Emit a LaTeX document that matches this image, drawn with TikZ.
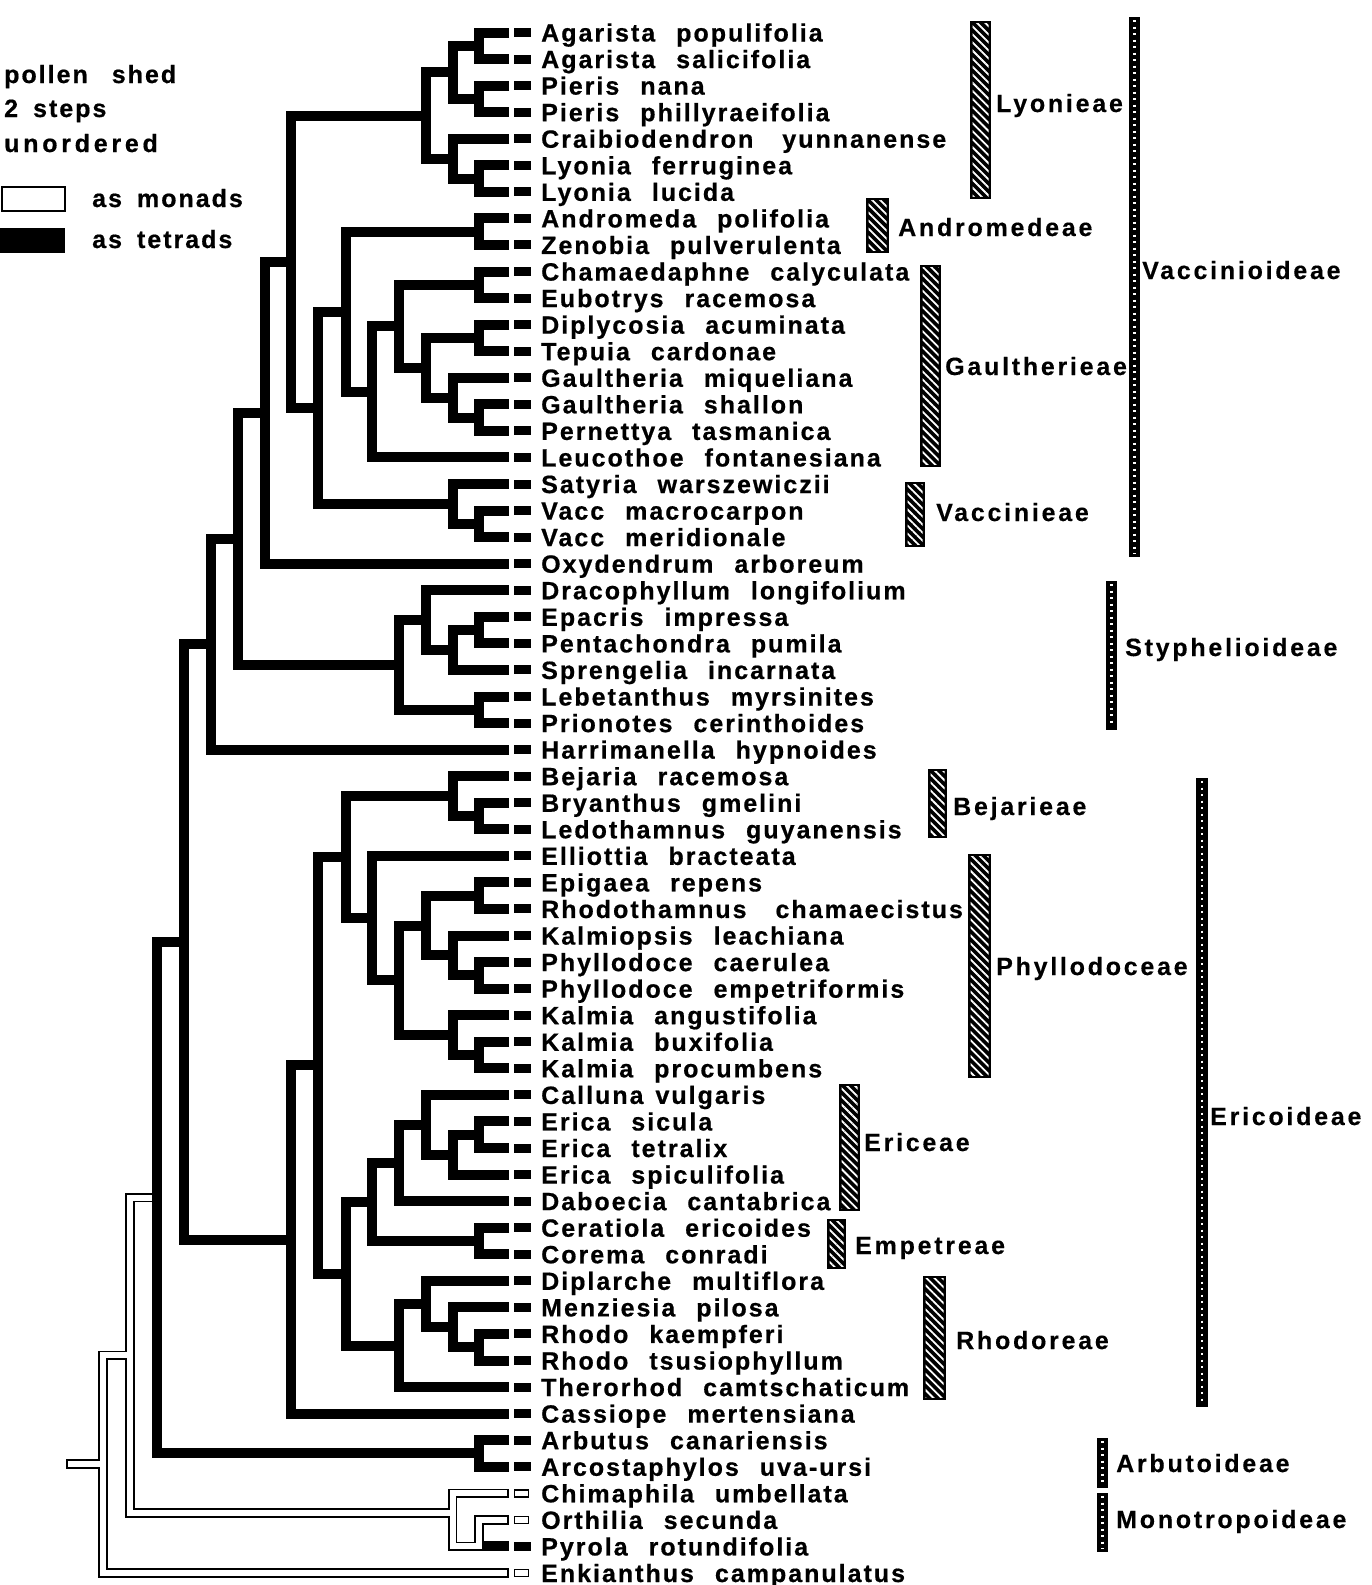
\documentclass[tikz,border=0pt]{standalone}
\usepackage{fontspec}
\setmainfont{Liberation Sans}
\newfontfamily\taxfont{Liberation Sans}[LetterSpace=8,BoldFeatures={FakeBold=0.6}]
\newfontfamily\grpfont{Liberation Sans}[LetterSpace=11,BoldFeatures={FakeBold=0.3}]
\newfontfamily\widefont{Liberation Sans}[LetterSpace=15,BoldFeatures={FakeBold=0.6}]
\usetikzlibrary{calc,patterns.meta}
\pgfdeclarelayer{paper}
\pgfdeclarelayer{under}
\pgfsetlayers{paper,under,main}
\newcommand\wg{\hspace{21pt}}
\newcommand\lgap{\hspace{15pt}}
\newcommand\clade[4]{%
  \path let \p1=($(#3)!0.5!(#4)$) in (#2pt,\y1) coordinate (#1);
  \draw[tet] (#3) -| (#1) |- (#4);}
\newcommand\hatchbar[4]{%
  \fill[black] (#1,#2) rectangle (#3,#4);
  \fill[pattern={Lines[angle=-45,distance=5.7pt,line width=1.8pt]},pattern color=white]
    ({#1+2.5},{#2+2.5}) rectangle ({#3-2.5},{#4-2.5});}
\newcommand\dotbar[4]{%
  \fill[black] (#1,#2) rectangle (#3,#4);
  \draw[white,line width=2.2pt,dash pattern=on 2pt off 4.5pt]
    ({(#1+#3)/2},{#2+3}) -- ({(#1+#3)/2},{#4-3});}
\begin{document}
\begin{tikzpicture}[x=1pt,y=-1pt,
 tet/.style={line width=10pt,line join=miter,line cap=butt},
 monout/.style={line width=9.5pt,line join=miter,black},
 monin/.style={line width=6pt,line join=miter,white},
 tbox/.style={fill=black,inner sep=0pt,minimum width=17pt,minimum height=9pt},
 wbox/.style={draw=black,line width=1.5pt,fill=white,inner sep=0pt,minimum width=14pt,minimum height=7pt},
 taxon/.style={font=\taxfont\bfseries\fontsize{25pt}{30pt}\selectfont,anchor=base west,inner sep=0pt},
 grp/.style={font=\grpfont\bfseries\fontsize{25pt}{30pt}\selectfont,anchor=base west,inner sep=0pt},
 leg/.style={font=\taxfont\bfseries\fontsize{25pt}{30pt}\selectfont,anchor=base west,inner sep=0pt}]
\begin{pgfonlayer}{paper}
\fill[white] (0,0) rectangle (1372,1585);
\end{pgfonlayer}
\useasboundingbox (0,0) rectangle (1372,1585);

% leaf ends
\foreach \i in {1,...,59} {\coordinate (t\i) at (509,{32.5+(\i-1)*26.56});}

% terminal boxes
\foreach \i in {1,...,55,58} {\node[tbox] (b\i) at (522.5,{32.5+(\i-1)*26.56}) {};}
\foreach \i in {56,57,59} {\node[wbox] (b\i) at (521.5,{32.5+(\i-1)*26.56}) {};}

% taxon names
\foreach \i/\nm in {1/{Agarista\wg populifolia},2/{Agarista\wg salicifolia},3/{Pieris\wg nana},
 4/{Pieris\wg phillyraeifolia},5/{Craibiodendron\wg\hspace{8pt}yunnanense},6/{Lyonia\wg ferruginea},
 7/{Lyonia\wg lucida},8/{Andromeda\wg polifolia},9/{Zenobia\wg pulverulenta},
 10/{Chamaedaphne\wg calyculata},11/{Eubotrys\wg racemosa},12/{Diplycosia\wg acuminata},
 13/{Tepuia\wg cardonae},14/{Gaultheria\wg miqueliana},15/{Gaultheria\wg shallon},
 16/{Pernettya\wg tasmanica},17/{Leucothoe\wg fontanesiana},18/{Satyria\wg warszewiczii},
 19/{Vacc\wg macrocarpon},20/{Vacc\wg meridionale},21/{Oxydendrum\wg arboreum},
 22/{Dracophyllum\wg longifolium},23/{Epacris\wg impressa},24/{Pentachondra\wg pumila},
 25/{Sprengelia\wg incarnata},26/{Lebetanthus\wg myrsinites},27/{Prionotes\wg cerinthoides},
 28/{Harrimanella\wg hypnoides},29/{Bejaria\wg racemosa},30/{Bryanthus\wg gmelini},
 31/{Ledothamnus\wg guyanensis},32/{Elliottia\wg bracteata},33/{Epigaea\wg repens},
 34/{Rhodothamnus\wg\hspace{8pt}chamaecistus},35/{Kalmiopsis\wg leachiana},36/{Phyllodoce\wg caerulea},
 37/{Phyllodoce\wg empetriformis},38/{Kalmia\wg angustifolia},39/{Kalmia\wg buxifolia},
 40/{Kalmia\wg procumbens},41/{Calluna\hspace{12pt}vulgaris},42/{Erica\wg sicula},
 43/{Erica\wg tetralix},44/{Erica\wg spiculifolia},45/{Daboecia\wg cantabrica},
 46/{Ceratiola\wg ericoides},47/{Corema\wg conradi},48/{Diplarche\wg multiflora},
 49/{Menziesia\wg pilosa},50/{Rhodo\wg kaempferi},51/{Rhodo\wg tsusiophyllum},
 52/{Therorhod\wg camtschaticum},53/{Cassiope\wg mertensiana},54/{Arbutus\wg canariensis},
 55/{Arcostaphylos\wg uva-ursi},56/{Chimaphila\wg umbellata},57/{Orthilia\wg secunda},
 58/{Pyrola\wg rotundifolia},59/{Enkianthus\wg campanulatus}}
 {\node[taxon] (l\i) at (541,{32.5+(\i-1)*26.56+9}) {\nm};}

% tetrad (black) tree
\clade{nAg}{479}{t1}{t2}
\clade{nPi}{479}{t3}{t4}
\clade{nAP}{452.5}{nAg}{nPi}
\clade{nLy}{479}{t6}{t7}
\clade{nCL}{452.5}{t5}{nLy}
\clade{nLyo}{426}{nAP}{nCL}
\clade{nAZ}{479}{t8}{t9}
\clade{nCE}{479}{t10}{t11}
\clade{nDT}{479}{t12}{t13}
\clade{nGP}{479}{t15}{t16}
\clade{nGa}{452.5}{t14}{nGP}
\clade{nGb}{426}{nDT}{nGa}
\clade{nGc}{399}{nCE}{nGb}
\clade{nGd}{372}{nGc}{t17}
\clade{nAG}{345.5}{nAZ}{nGd}
\clade{nVV}{479}{t19}{t20}
\clade{nVa}{452.5}{t18}{nVV}
\clade{nVb}{318}{nAG}{nVa}
\clade{nVc}{291}{nLyo}{nVb}
\clade{nVd}{264.5}{nVc}{t21}
\clade{nEP}{479}{t23}{t24}
\clade{nSa}{452.5}{nEP}{t25}
\clade{nSb}{426}{t22}{nSa}
\clade{nLP}{479}{t26}{t27}
\clade{nSc}{399}{nSb}{nLP}
\clade{nVe}{237.5}{nVd}{nSc}
\clade{nVf}{211}{nVe}{t28}
\clade{nBL}{479}{t30}{t31}
\clade{nBe}{452.5}{t29}{nBL}
\clade{nER}{479}{t33}{t34}
\clade{nPP}{479}{t36}{t37}
\clade{nKP}{452.5}{t35}{nPP}
\clade{nPa}{426}{nER}{nKP}
\clade{nKK}{479}{t39}{t40}
\clade{nKa}{452.5}{t38}{nKK}
\clade{nPb}{399}{nPa}{nKa}
\clade{nPc}{372}{t32}{nPb}
\clade{nPd}{345.5}{nBe}{nPc}
\clade{nST}{479}{t42}{t43}
\clade{nEa}{452.5}{nST}{t44}
\clade{nEb}{426}{t41}{nEa}
\clade{nEc}{399}{nEb}{t45}
\clade{nCC}{479}{t46}{t47}
\clade{nEd}{372}{nEc}{nCC}
\clade{nRR}{479}{t50}{t51}
\clade{nRa}{452.5}{t49}{nRR}
\clade{nRb}{426}{t48}{nRa}
\clade{nRc}{399}{nRb}{t52}
\clade{nEe}{345.5}{nEd}{nRc}
\clade{nEf}{318}{nPd}{nEe}
\clade{nEg}{291}{nEf}{t53}
\clade{nTa}{184}{nVf}{nEg}
\clade{nAr}{479}{t54}{t55}
\clade{nTb}{157}{nTa}{nAr}

% monad (white) part
\coordinate (mA) at (452.5,1513);
\path let \p1=(t58) in (452.5pt,\y1) coordinate (mAb) (479pt,\y1) coordinate (mBb) (483.75pt,\y1) coordinate (pyr);
\path let \p1=($(nTb)!0.5!(mA)$) in (130pt,\y1) coordinate (nMa);
\path let \p1=($(nMa)!0.5!(t59)$) in (103pt,\y1) coordinate (nMb);
\path let \p1=(nMb) in (66pt,\y1) coordinate (root);
\begin{pgfonlayer}{under}
\draw[monout] (root) -- (nMb);
\draw[monout] (nMa) -| (nMb) |- (t59);
\draw[monout] (nTb) -| (nMa) |- (mA);
\draw[monout] (t56) -| (mAb) -- (mBb) |- (t57);
\draw[monin,shorten <=1.75pt] (root) -- (nMb);
\draw[monin,shorten >=1.75pt] (nMa) -| (nMb) |- (t59);
\draw[monin] (nTb) -| (nMa) |- (mA);
\draw[monin,shorten <=1.75pt,shorten >=1.75pt] (t56) -| (mAb) -- (mBb) |- (t57);
\end{pgfonlayer}
\draw[tet] (pyr) -- (t58);

% legend
\node[leg] (lg1) at (4,83) {pollen\hspace{24pt}shed};
\node[leg] (lg2) at (4,117) {2\lgap steps};
\node[leg,font=\widefont\bfseries\fontsize{25pt}{30pt}\selectfont] (lg3) at (4,152) {unordered};
\node[draw=black,line width=1.5pt,fill=white,minimum width=63pt,minimum height=24pt,inner sep=0pt] (lgw) at (33.5,199) {};
\node[fill=black,minimum width=65pt,minimum height=25pt,inner sep=0pt] (lgb) at (32.5,240.5) {};
\node[leg] (lg4) at (92,207) {as\lgap monads};
\node[leg] (lg5) at (92,248) {as\lgap tetrads};

% group bars
\hatchbar{970}{21}{991}{199}
\hatchbar{866}{198}{889}{253}
\hatchbar{920}{265}{941}{467}
\hatchbar{905}{482}{925}{547}
\hatchbar{928}{769}{947}{838}
\hatchbar{968}{854}{991}{1078}
\hatchbar{839}{1084}{860}{1211}
\hatchbar{827}{1219}{846}{1269}
\hatchbar{923}{1276}{946}{1400}
\dotbar{1129}{17}{1140}{557}
\dotbar{1106}{581}{1117}{730}
\dotbar{1196}{778}{1208}{1407}
\dotbar{1097}{1438}{1108}{1488}
\dotbar{1097}{1493}{1108}{1552}

% group labels
\node[grp] (gLy) at (996,112) {Lyonieae};
\node[grp] (gVo) at (1142,279) {Vaccinioideae};
\node[grp] (gAn) at (898,236) {Andromedeae};
\node[grp] (gGa) at (945,375) {Gaultherieae};
\node[grp] (gVe) at (936,521) {Vaccinieae};
\node[grp] (gSt) at (1125,656) {Styphelioideae};
\node[grp] (gBe) at (953,815) {Bejarieae};
\node[grp] (gPh) at (996,975) {Phyllodoceae};
\node[grp] (gEo) at (1210,1125) {Ericoideae};
\node[grp] (gEr) at (864,1151) {Ericeae};
\node[grp] (gEm) at (855,1254) {Empetreae};
\node[grp] (gRh) at (956,1349) {Rhodoreae};
\node[grp] (gAr) at (1116,1472) {Arbutoideae};
\node[grp] (gMo) at (1116,1528) {Monotropoideae};
\end{tikzpicture}
\end{document}
